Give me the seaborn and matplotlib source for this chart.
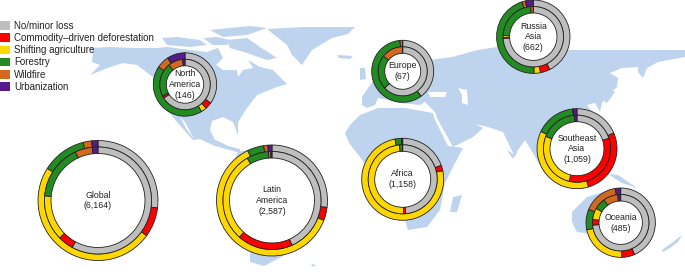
import matplotlib
matplotlib.use("Agg")
import matplotlib.pyplot as plt
import seaborn as sns
from matplotlib.patches import Patch, Polygon, Circle

sns.set_theme(style="white")
plt.rcParams['font.family'] = ['Liberation Sans', 'DejaVu Sans']

categories = ["No/minor loss", "Commodity\u2013driven deforestation", "Shifting agriculture",
              "Forestry", "Wildfire", "Urbanization"]
palette = sns.color_palette(["#BEBEBE", "#FF0000", "#FFD700", "#228B22", "#D2691E", "#551A8B"])
land_color = "#BDD3EE"

# Share of each class, clockwise from the top
global_outer = [27, 8, 49, 12, 2.3, 1.7]
global_inner = [58, 4.7, 13.7, 16.7, 5.2, 1.7]
latin_outer = [27, 3.8, 62, 4.8, 1.2, 1.2]
latin_inner = [43.3, 18.3, 30, 7.2, 0.8, 0.4]
africa_outer = [19.5, 2.2, 75.3, 2.5, 0.1, 0.4]
africa_inner = [48.6, 1, 48.9, 1.4, 0, 0.1]
seasia_outer = [18.6, 26.8, 36.7, 16.2, 0.1, 1.6]
seasia_inner = [20, 33.8, 27.2, 17.7, 0, 1.3]
oceania_outer = [43.5, 6, 22.2, 9.6, 16.2, 2.5]
oceania_inner = [73.6, 3.3, 6.5, 6.5, 8.4, 1.7]
namerica_outer = [35, 3.5, 2.8, 43, 6.5, 9.2]
namerica_inner = [66, 1.5, 0, 21.5, 9.5, 1.5]
europe_outer = [40, 0, 0, 58.6, 1.4, 0]
europe_inner = [63.2, 0, 0, 22.5, 14.3, 0]
russia_outer = [42.6, 4.3, 2.8, 45.3, 1.5, 3.5]
russia_inner = [74.1, 0.5, 1, 23, 1.4, 0]

region_labels = ["Global\n(6,164)", "Latin\nAmerica\n(2,587)", "Africa\n(1,158)",
                 "Southeast\nAsia\n(1,059)", "Oceania\n(485)", "North\nAmerica\n(146)",
                 "Europe\n(67)", "Russia\nAsia\n(662)"]
region_outer = [global_outer, latin_outer, africa_outer, seasia_outer, oceania_outer,
                namerica_outer, europe_outer, russia_outer]
region_inner = [global_inner, latin_inner, africa_inner, seasia_inner, oceania_inner,
                namerica_inner, europe_inner, russia_inner]
donut_x = [98, 272, 402.7, 577, 620.7, 185, 402.7, 533.3]
donut_y = [200.5, 200.5, 179.3, 148.7, 222.7, 84.5, 71.3, 36.7]
donut_r = [60, 55.5, 41, 40, 34.7, 31.7, 31, 36.7]
ring_w = 6.5

# Background map outlines, in picture pixels
north_america = [(90,48),(110,47),(133,48),(157,48),(167,47),(190,50),(207,52),(218,48),(223,58),(216,65),(223,70),(237,70),(238,77),(243,70),(253,68),(248,60),(260,67),(273,70),(287,84),(277,87),(257,95),(247,108),(238,122),(238,135),(233,122),(223,117),(212,121),(210,130),(215,140),(220,142),(228,146),(240,149),(240,153),(230,150),(215,146),(200,139),(193,140),(177,122),(155,95),(153,77),(137,65),(123,63),(110,67),(90,75),(100,65),(92,62),(93,52)]
victoria = [(162,38),(177,37),(200,40),(207,45),(190,47),(167,45)]
arctic_mid = [(203,38),(217,37),(230,40),(227,45),(213,45)]
baffin = [(227,40),(247,38),(260,47),(277,58),(267,60),(247,53),(230,48)]
ellesmere = [(210,30),(250,26),(267,28),(247,35),(223,37)]
greenland = [(267,29),(303,27),(355,27),(348,34),(332,38),(312,50),(302,65),(292,55),(287,45),(277,37)]
south_america = [(238,152),(255,148),(285,158),(320,185),(310,215),(285,255),(264,266),(250,262),(250,225),(240,185),(232,165)]
eurasia = [(362,97),(368,88),(385,65),(430,60),(452,57),(478,50),(497,47),(540,50),(578,50),(628,50),(685,50),(685,57),(658,62),(647,68),(643,78),(638,72),(638,67),(622,68),(610,73),(618,78),(617,87),(608,95),(602,103),(600,112),(595,103),(587,105),(598,120),(600,135),(590,165),(560,175),(540,165),(525,140),(518,150),(515,157),(503,132),(488,127),(470,123),(462,118),(477,125),(483,128),(473,137),(453,147),(437,118),(435,112),(425,102),(420,105),(400,103),(388,100),(378,98),(375,105),(367,108),(362,105)]
africa = [(345,133),(350,125),(360,115),(378,108),(405,108),(433,113),(435,120),(448,146),(463,148),(453,167),(445,183),(440,210),(427,227),(408,230),(405,220),(395,195),(370,170),(349,143)]
madagascar = [(453,197),(462,195),(457,212),(450,212)]
britain = [(360,68),(365,68),(366,79),(360,80)]
iceland = [(337,55),(353,56),(350,59),(339,58)]
japan = [(603,100),(612,90),(615,92),(607,103)]
sri_lanka = [(507,150),(515,155),(513,159)]
new_guinea = [(608,174),(618,175),(637,188),(622,183)]
australia = [(572,212),(587,197),(610,190),(640,195),(650,225),(640,245),(600,235),(577,232),(572,222)]
new_zealand = [(662,250),(673,242),(682,235),(678,242),(670,248),(663,252)]
falkland = [(311,264),(316,265),(313,267)]
land_shapes = [north_america, victoria, arctic_mid, baffin, ellesmere, greenland, south_america, eurasia,
               africa, madagascar, britain, iceland, japan, sri_lanka, new_guinea, australia, new_zealand, falkland]
caspian = [(458,88),(467,90),(468,105),(462,103),(462,95)]
black_sea = [(428,92),(447,92),(445,97),(430,97)]
gulf_california = [(180,117),(185,122),(194,139),(187,130)]
inland_seas = [caspian, black_sea, gulf_california]

W, H = 685, 274
fig = plt.figure(figsize=(W/100, H/100), dpi=100)
ax = fig.add_axes([0, 0, 1, 1])

for shape in land_shapes:
    ax.add_patch(Polygon([(x, H-y) for x, y in shape], closed=True, fc=land_color, ec="none", zorder=1))
for shape in inland_seas:
    ax.add_patch(Polygon([(x, H-y) for x, y in shape], closed=True, fc="white", ec="none", zorder=1.5))

edge = dict(edgecolor="#222222", linewidth=0.6)
for label, outer, inner, x, y, r in zip(region_labels, region_outer, region_inner, donut_x, donut_y, donut_r):
    cy = H - y
    ax.add_patch(Circle((x, cy), r - 2*ring_w, fc="white", ec="none", zorder=2))
    for vals, rad in ((outer, r), (inner, r - ring_w)):
        wedges, _ = ax.pie(vals, colors=palette, center=(x, cy), radius=rad, startangle=90,
                           counterclock=False, frame=True,
                           wedgeprops=dict(width=ring_w, **edge))
        for w in wedges:
            w.set_zorder(3)
    ax.text(x, cy, label, ha="center", va="center", fontsize=6.35, color="#222222",
            linespacing=1.23, zorder=4)

ax.set_xlim(0, W)
ax.set_ylim(0, H)
ax.set_aspect("equal")
ax.axis("off")

handles = [Patch(fc=c, ec="none") for c in palette]
ax.legend(handles, categories, loc="upper left", bbox_to_anchor=(0, 1 - 21/H), frameon=False,
          fontsize=7.05, handlelength=1.02, handleheight=1.0, labelspacing=0.22, handletextpad=0.42,
          borderpad=0, borderaxespad=0, labelcolor="#222222")

fig.savefig("out.png", dpi=100)
